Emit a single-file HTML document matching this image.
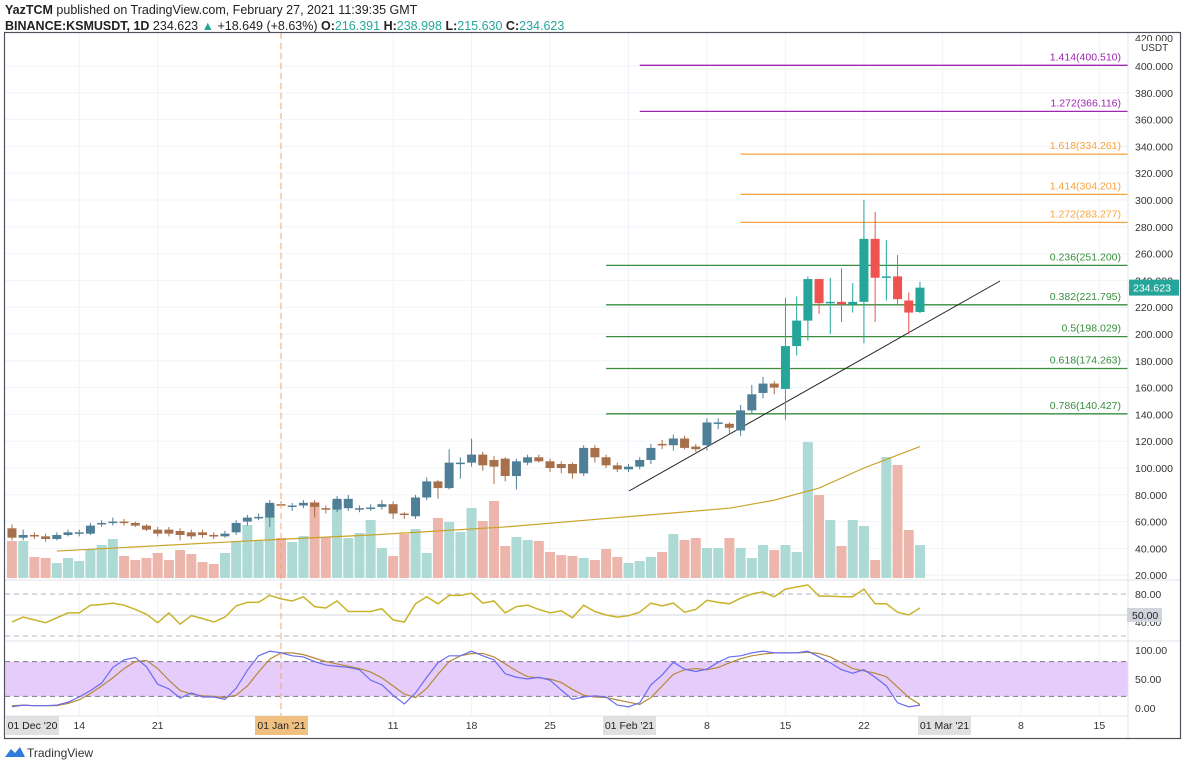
<!DOCTYPE html>
<html><head><meta charset="utf-8"><style>
body{margin:0;background:#fff;width:1185px;height:768px;overflow:hidden;font-family:"Liberation Sans",sans-serif}
#hdr{position:absolute;left:5px;top:2px;font-size:12.5px;color:#222;line-height:16px}
#hdr .g{color:#26a69a}
svg{position:absolute;left:0;top:0}
</style></head><body>
<div id="hdr">
<div><b>YazTCM</b> published on TradingView.com, February 27, 2021 11:39:35 GMT</div>
<div><b>BINANCE:KSMUSDT, 1D</b> 234.623 <span class="g">▲</span> +18.649 (+8.63%) <b>O:</b><span class="g">216.391</span> <b>H:</b><span class="g">238.998</span> <b>L:</b><span class="g">215.630</span> <b>C:</b><span class="g">234.623</span></div>
</div>
<svg id="c" width="1185" height="768"></svg>
<script>
// day index relative to 01 Jan 2021
const days=[-24,-23,-22,-21,-20,-19,-18,-17,-16,-15,-14,-13,-12,-11,-10,-9,-8,-7,-6,-5,-4,-3,-2,-1,0,1,2,3,4,5,6,7,8,9,10,11,12,13,14,15,16,17,18,19,20,21,22,23,24,25,26,27,28,29,30,31,32,33,34,35,36,37,38,39,40,41,42,43,44,45,46,47,48,49,50,51,52,53,54,55,56,57];
const opens=[55,48,50,49,47,50,51,51,58,59,60,59,57,54,54,53,52,52,50,49,52,60,63,63,73,71.5,72,74,70,69,70,70,70,71,73,66,64,78,90,85,103,104,110,106,107,94,104,108,105,103,103,96,115,108,102,99,101,106,118,117,122,116,117,133,133,128,143,156,163,159,191,210,241,223,224,222,224,271,242,243,225,216.4];
const closes=[48,50,49,47,50,52,52,57,59,60,59,57,54,51,51,50,49,50,49,51,59,63,63.5,74,72,72,74,71,69,77,77,70,70.5,73,66,65,78,90,85,104,104,110,102,101,94,105,108,105,100,100,96,115,108,102,99,101,106,115,117,122,115,114,134,134,130,143,155,163,160,191,210,241,223,224,222,224,271,242,243,226,216,234.6];
const highs=[58,54,52,51,52,54,54,59,61,63,62,60,58,56,56,55,54,54,52,53,61,65,66,76,75,74,76,76,72,79,80,72,73,76,75,67,80,93,91,114,108,122,112,109,108,107,110,110,107,105,104,117,117,110,104,103,108,118,121,125,124,118,137,137,134,147,162,168,165,227,228,243,241,242,249,238,300,291,270,259,231,239];
const lows=[46,46,47,45,46,49,49,50,56,57,57,56,53,49,49,46,47,48,47,48,50,57,61,56,70,68,70,63,66,67,68,67,68,69,62,62,62,76,77,84,92,101,98,88,90,84,102,104,97,96,92,94,104,100,97,97,99,103,114,113,114,112,113,129,126,124,140,152,155,136,184,195,215,200,209,216,193,209,225,222,200,215.6];
const volumes=[37,37,21,20,15,20,17,29,33,39,22,18,20,25,18,28,24,16,14,25,37,53,37,73,40,36,42,76,41,77,40,45,58,30,22,44,49,25,60,56,46,70,57,77,32,41,38,37,26,23,22,20,18,29,21,15,17,21,26,44,38,40,30,30,40,30,20,33,28,33,26,136,83,58,32,58,52,18,121,113,48,33,38,15];
const maDays=[-20,-2,8,20,30,40,44,48,52,57];
const maVals=[38,46,50,56,63,70,76,85,100,116];
const rsi=[40,47,43,39,46,53,53,64,65,67,64,58,51,39,53,37,49,45,40,47,63,68,68,78,73,70,76,62,60,70,55,55,55,59,43,40,66,76,66,78,78,81,67,70,53,62,64,58,53,56,46,64,55,50,47,49,54,67,63,67,54,58,71,68,66,74,80,83,76,87,90,93,77,77,76,76,87,66,66,54,50,60];
const stochK=[2,5,4,4,5,10,19,30,43,70,83,87,71,41,33,17,26,19,19,15,34,65,90,98,95,90,88,80,74,72,70,66,48,40,22,7,26,53,78,90,90,98,90,83,59,53,50,53,48,31,15,19,21,19,5,2,9,40,57,79,67,63,67,79,88,90,95,98,95,95,95,98,88,78,66,60,66,53,38,9,2,5];
const stochD=[4,5,4,4,4,8,14,25,38,52,68,80,82,68,48,30,24,21,20,18,22,38,62,84,95,95,92,86,80,76,72,68,62,52,38,24,18,34,58,80,90,94,94,88,76,64,54,52,50,44,32,22,19,18,14,10,6,18,38,58,66,68,66,70,78,85,90,93,95,95,95,96,94,88,78,68,64,60,54,36,18,6];
const priceTicks=[20,40,60,80,100,120,140,160,180,200,220,240,260,280,300,320,340,360,380,400];
const fibLabels=["1.414(400.510)","1.272(366.116)","1.618(334.261)","1.414(304.201)","1.272(283.277)","0.236(251.200)","0.382(221.795)","0.5(198.029)","0.618(174.263)","0.786(140.427)"];
const fibVals=[400.51,366.116,334.261,304.201,283.277,251.2,221.795,198.029,174.263,140.427];
const fibStartDay=[32,32,41,41,41,29,29,29,29,29];
const timeLabels=["14","21","11","18","25","8","15","22","8","15"];
const timeDays=[-18,-11,10,17,24,38,45,52,66,73];

const NS="http://www.w3.org/2000/svg",S=document.getElementById('c');
function el(t,a,p){const e=document.createElementNS(NS,t);for(const k in a)e.setAttribute(k,a[k]);(p||S).appendChild(e);return e;}
const X=d=>281+d*11.21, Y=p=>334-(p-200)*1.34, VY=v=>578-v, RY=v=>594+(80-v)*0.7, SY=v=>708-v*0.58;
const AX=1128;
priceTicks.forEach(p=>{const l=el('line',{x1:5,x2:AX,y1:Y(p),y2:Y(p),stroke:'#f0f3fa'});});
[-31,-18,-11,0,10,17,24,31,38,45,52,59,66,73].forEach(d=>{const l=el('line',{x1:X(d),x2:X(d),y1:33,y2:716,stroke:'#f0f3fa'});});
const band=el('rect',{x:5,y:SY(80),width:AX-5,height:SY(20)-SY(80),fill:'#e6ccfb'});

[80,20].forEach(v=>{const l=el('line',{x1:5,x2:AX,y1:SY(v),y2:SY(v),stroke:'#787b86','stroke-dasharray':'5,4'});});
[80,20].forEach(v=>{const l=el('line',{x1:5,x2:AX,y1:RY(v),y2:RY(v),stroke:'#b2b5be','stroke-dasharray':'5,4'});});
const l50=el('line',{x1:5,x2:AX,y1:RY(50),y2:RY(50),stroke:'#d1d4dc'});
days.forEach((d,i)=>{const up=closes[i]>=opens[i];const r=el('rect',{x:X(d)-5,y:VY(volumes[i]),width:10,height:volumes[i],fill:up?'#9fd3cc':'#eaa99f',opacity:0.85});
});
const ma=el('polyline',{points:maDays.map((d,i)=>X(d)+','+Y(maVals[i])).join(' '),fill:'none',stroke:'#c9a227','stroke-width':1.2});

fibVals.forEach((v,i)=>{const c=i<2?'#9c27b0':(i<5?'#f7a440':'#388e3c');
const l=el('line',{x1:X(fibStartDay[i]),x2:AX,y1:Y(v),y2:Y(v),stroke:c,'stroke-width':1.3});

const t=el('text',{x:1121,y:Y(v)-5,'text-anchor':'end','font-size':10.5,fill:c});t.textContent=fibLabels[i];
});
const tl=el('line',{x1:629,y1:491,x2:1000,y2:281,stroke:'#222','stroke-width':1});

days.forEach((d,i)=>{const up=closes[i]>=opens[i];const late=d>=45;
const c=late?(up?'#26a69a':'#ef5350'):(up?'#4f7f96':'#a8704a');
const g=el('g',{});
el('line',{x1:X(d),x2:X(d),y1:Y(highs[i]),y2:Y(lows[i]),stroke:c,'stroke-width':1},g);
const t=Y(Math.max(opens[i],closes[i])),b=Y(Math.min(opens[i],closes[i]));
el('rect',{x:X(d)-4.5,y:t,width:9,height:Math.max(1.5,b-t),fill:c},g);});
const rl=el('polyline',{points:days.map((d,i)=>X(d)+','+RY(rsi[i])).join(' '),fill:'none',stroke:'#c9b32a','stroke-width':1.5});

const dl=el('polyline',{points:days.map((d,i)=>X(d)+','+SY(stochD[i])).join(' '),fill:'none',stroke:'#b5893a','stroke-width':1.2});

const kl=el('polyline',{points:days.map((d,i)=>X(d)+','+SY(stochK[i])).join(' '),fill:'none',stroke:'#6a6cf0','stroke-width':1.2});

const vd=el('line',{x1:281,x2:281,y1:33,y2:716,stroke:'#f0a860','stroke-dasharray':'6,4'});

[[AX,33,AX,738],[5,580,1180,580],[5,641,1180,641],[5,716,AX,716]].forEach(a=>{const l=el('line',{x1:a[0],y1:a[1],x2:a[2],y2:a[3],stroke:'#e0e3eb'});});
const fr=el('rect',{x:4.5,y:32.5,width:1176,height:706,fill:'none',stroke:'#50535e','stroke-width':1.2});

priceTicks.forEach(p=>{const t=el('text',{x:1135,y:Y(p)+4,'font-size':10.5,fill:'#333'});t.textContent=p.toFixed(3);});
let t0=el('text',{x:1135,y:42,'font-size':10.5,fill:'#333'});t0.textContent='420.000';
const ub=el('rect',{x:1136,y:41,width:30,height:13,fill:'#fff'});
let tu=el('text',{x:1141,y:51,'font-size':10,fill:'#333'});tu.textContent='USDT';
const pb=el('rect',{x:1129,y:Y(234.623)-8,width:50,height:16,fill:'#26a69a'});
let tp=el('text',{x:1133,y:Y(234.623)+4,'font-size':10.5,fill:'#fff'});tp.textContent='234.623';
[['80.00',RY(80)],['40.00',RY(40)]].forEach(a=>{const t=el('text',{x:1135,y:a[1]+4,'font-size':10.5,fill:'#333'});t.textContent=a[0];});
const rb=el('rect',{x:1127,y:RY(50)-7,width:35,height:14,fill:'#d1d4dc'});
let tr=el('text',{x:1132,y:RY(50)+4,'font-size':10.5,fill:'#222'});tr.textContent='50.00';
[['100.00',100],['50.00',50],['0.00',0]].forEach(a=>{const t=el('text',{x:1135,y:SY(a[1])+4,'font-size':10.5,fill:'#333'});t.textContent=a[0];});
timeDays.forEach((d,i)=>{const t=el('text',{x:X(d),y:729,'text-anchor':'middle','font-size':10.5,fill:'#333'});t.textContent=timeLabels[i];});
[['01 Dec \'20',6,'#e0e0e0'],['01 Jan \'21',255,'#f0c080'],['01 Feb \'21',603,'#e0e0e0'],['01 Mar \'21',918,'#e0e0e0']].forEach(a=>{
const r=el('rect',{x:a[1],y:716,width:53,height:19,fill:a[2]});
const t=el('text',{x:a[1]+26.5,y:729,'text-anchor':'middle','font-size':10.5,fill:'#222'});t.textContent=a[0];});
const lg=el('path',{d:'M5 757 l6 -8 l4 4 l5 -6 l5 10 z',fill:'#2f7bd9'});
let tl2=el('text',{x:27,y:757,'font-size':12,fill:'#333'});tl2.textContent='TradingView';
</script>
</body></html>
